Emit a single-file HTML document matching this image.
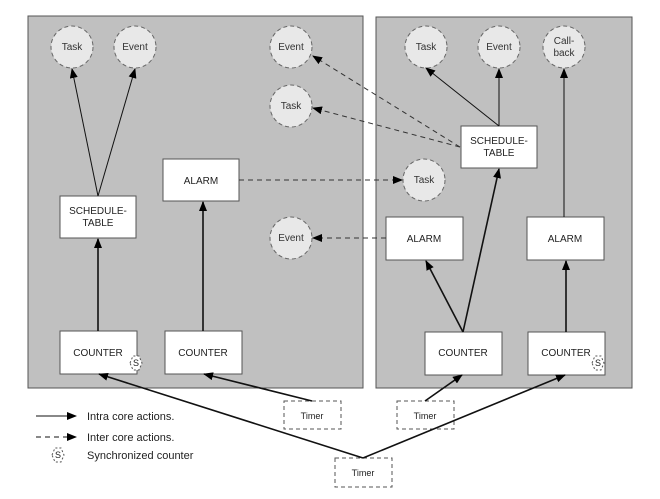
<!DOCTYPE html>
<html><head><meta charset="utf-8"><style>
html,body{margin:0;padding:0;background:#fff;}
svg{display:block;font-family:"Liberation Sans",Arial,sans-serif;}
</style></head><body>
<svg width="660" height="499" viewBox="0 0 660 499" xmlns="http://www.w3.org/2000/svg">
<defs>
<marker id="a" markerWidth="10" markerHeight="8" refX="9" refY="4" orient="auto" markerUnits="userSpaceOnUse">
<path d="M0,0 L10,4 L0,8 z" fill="#000"/></marker>
</defs>
<rect x="28" y="16" width="335" height="372" fill="#c0c0c0" stroke="#555" stroke-width="1"/>
<rect x="376" y="17" width="256" height="371" fill="#c0c0c0" stroke="#555" stroke-width="1"/>

<g fill="#e8e8e8" stroke="#666" stroke-dasharray="4,3" stroke-width="1">
<circle cx="72" cy="47" r="21"/><circle cx="135" cy="47" r="21"/>
<circle cx="291" cy="47" r="21"/><circle cx="291" cy="106" r="21"/><circle cx="291" cy="238" r="21"/>
<circle cx="426" cy="47" r="21"/><circle cx="499" cy="47" r="21"/><circle cx="564" cy="47" r="21"/>
<circle cx="424" cy="180" r="21"/>
</g>
<g font-size="10" fill="#333" text-anchor="middle">
<text x="72" y="50">Task</text><text x="135" y="50">Event</text>
<text x="291" y="50">Event</text><text x="291" y="109">Task</text><text x="291" y="241">Event</text>
<text x="426" y="50">Task</text><text x="499" y="50">Event</text>
<text x="564" y="44">Call-</text><text x="564" y="56">back</text>
<text x="424" y="183">Task</text>
</g>

<g fill="#fff" stroke="#555" stroke-width="1">
<rect x="60" y="196" width="76" height="42"/>
<rect x="163" y="159" width="76" height="42"/>
<rect x="461" y="126" width="76" height="42"/>
<rect x="386" y="217" width="77" height="43"/>
<rect x="527" y="217" width="77" height="43"/>
<rect x="60" y="331" width="77" height="43"/>
<rect x="165" y="331" width="77" height="43"/>
<rect x="425" y="332" width="77" height="43"/>
<rect x="528" y="332" width="77" height="43"/>
</g>
<g fill="#fff" stroke="#555" stroke-dasharray="4,3">
<rect x="284" y="401" width="57" height="28"/>
<rect x="397" y="401" width="57" height="28"/>
<rect x="335" y="458" width="57" height="29"/>
</g>
<g font-size="10" fill="#222" text-anchor="middle">
<text x="98" y="214">SCHEDULE-</text><text x="98" y="226">TABLE</text>
<text x="201" y="184">ALARM</text>
<text x="499" y="144">SCHEDULE-</text><text x="499" y="156">TABLE</text>
<text x="424" y="242">ALARM</text><text x="565" y="242">ALARM</text>
<text x="98" y="356">COUNTER</text><text x="203" y="356">COUNTER</text>
<text x="463" y="356">COUNTER</text><text x="566" y="356">COUNTER</text>
<text x="312" y="419" font-size="9">Timer</text><text x="425" y="419" font-size="9">Timer</text><text x="363" y="476" font-size="9">Timer</text>
</g>

<g stroke="#111" stroke-width="1" fill="none" marker-end="url(#a)">
<line x1="98" y1="196" x2="72" y2="69"/>
<line x1="98" y1="196" x2="135" y2="69"/>
<line x1="499" y1="126" x2="426" y2="68"/>
<line x1="499" y1="126" x2="499" y2="69"/>
<line x1="564" y1="217" x2="564" y2="69"/>
</g>
<g stroke="#111" stroke-width="1.6" fill="none" marker-end="url(#a)">
<line x1="98" y1="331" x2="98" y2="239"/>
<line x1="203" y1="331" x2="203" y2="202"/>
<line x1="463" y1="332" x2="426" y2="261"/>
<line x1="463" y1="332" x2="499" y2="169"/>
<line x1="566" y1="332" x2="566" y2="261"/>
<line x1="312" y1="401" x2="204" y2="374"/>
<line x1="425" y1="401" x2="462" y2="375"/>
<line x1="363" y1="458" x2="99" y2="374"/>
<line x1="363" y1="458" x2="565" y2="375"/>
</g>
<g stroke="#333" stroke-width="1" stroke-dasharray="5,4" fill="none" marker-end="url(#a)">
<line x1="239" y1="180" x2="402" y2="180"/>
<line x1="386" y1="238" x2="313" y2="238"/>
<line x1="460" y1="147" x2="313" y2="56"/>
<line x1="460" y1="147" x2="313" y2="108"/>
</g>

<g fill="#fff" stroke="#555" stroke-dasharray="2,2">
<polygon points="130,363 133,356 139,356 142,363 139,370 133,370"/>
<polygon points="592,363 595,356 601,356 604,363 601,370 595,370"/>
<polygon points="52,455 55,448 61,448 64,455 61,462 55,462"/>
</g>
<g font-size="9" fill="#222" text-anchor="middle">
<text x="136" y="366">S</text><text x="598" y="366">S</text><text x="58" y="458">S</text>
</g>

<line x1="36" y1="416" x2="76" y2="416" stroke="#111" stroke-width="1" marker-end="url(#a)"/>
<line x1="36" y1="437" x2="76" y2="437" stroke="#111" stroke-width="1" stroke-dasharray="5,4" marker-end="url(#a)"/>
<g font-size="11" fill="#222">
<text x="87" y="420">Intra core actions.</text>
<text x="87" y="441">Inter core actions.</text>
<text x="87" y="459">Synchronized counter</text>
</g>
</svg>
</body></html>
